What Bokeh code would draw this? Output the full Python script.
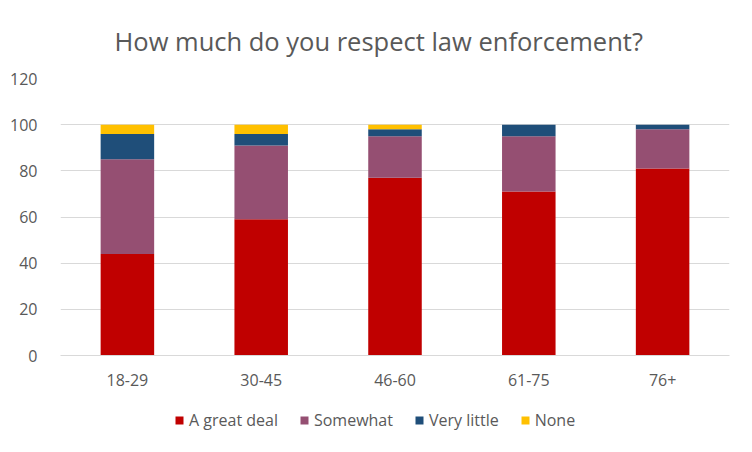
from bokeh.plotting import figure
from bokeh.layouts import column
from bokeh.models import Legend, LegendItem, ColumnDataSource, FixedTicker
from bokeh.embed import file_html
from bokeh.resources import INLINE

age_groups = ["18-29", "30-45", "46-60", "61-75", "76+"]
great_deal = [44, 59, 77, 71, 81]
somewhat = [41, 32, 18, 24, 17]
very_little = [11, 5, 3, 5, 2]
none_ = [4, 4, 2, 0, 0]
series = ["A great deal", "Somewhat", "Very little", "None"]
colors = ["#C00000", "#954F72", "#1F4E79", "#FFC000"]
y_ticks = [0, 20, 40, 60, 80, 100, 120]
title_text = "How much do you respect law enforcement?"

FONT = "Open Sans"
GREY = "#595959"

source = ColumnDataSource(dict(
    age=age_groups,
    **{"A great deal": great_deal, "Somewhat": somewhat,
       "Very little": very_little, "None": none_}
))

# ---- main chart ----
p = figure(x_range=age_groups, y_range=(0, 120), width=736, height=392,
           output_backend="svg", toolbar_location=None,
           min_border_left=60, min_border_right=7,
           min_border_top=78, min_border_bottom=37)

p.vbar_stack(series, x="age", width=0.4, source=source,
             color=colors, line_color=None)

p.title.text = title_text
p.title.align = "left"
p.title.offset = 54
p.title.text_font = FONT
p.title.text_font_size = "25.5px"
p.title.text_font_style = "normal"
p.title.text_color = GREY
p.title.standoff = 42

p.outline_line_color = None
p.background_fill_color = "white"
p.border_fill_color = "white"

p.xgrid.grid_line_color = None
p.ygrid.grid_line_color = "#d9d9d9"
p.ygrid.grid_line_width = 1

p.yaxis.ticker = FixedTicker(ticks=y_ticks)
p.yaxis.axis_line_color = None
p.yaxis.major_tick_line_color = None
p.yaxis.minor_tick_line_color = None
p.yaxis.major_label_standoff = 17
p.yaxis.major_label_text_font = FONT
p.yaxis.major_label_text_font_size = "16px"
p.yaxis.major_label_text_color = GREY

p.xaxis.axis_line_color = "#d9d9d9"
p.xaxis.major_tick_line_color = None
p.xaxis.minor_tick_line_color = None
p.xaxis.major_label_standoff = 12
p.xaxis.major_label_text_font = FONT
p.xaxis.major_label_text_font_size = "16px"
p.xaxis.major_label_text_color = GREY

# ---- legend strip ----
lg = figure(x_range=age_groups, y_range=(0, 1), width=736, height=44,
            output_backend="svg", toolbar_location=None,
            x_axis_location=None, y_axis_location=None, min_border=0)
lg.outline_line_color = None
lg.grid.grid_line_color = None
lg_renderers = lg.vbar_stack(series, x="age", width=0.4, source=source,
                             color=colors, line_color=None, visible=False)

items = [LegendItem(label=s, renderers=[r]) for s, r in zip(series, lg_renderers)]
legend = Legend(items=items, orientation="horizontal", location=(114, 5),
                label_text_font=FONT, label_text_font_size="16px",
                label_text_color=GREY, glyph_width=10, glyph_height=10,
                label_standoff=5, spacing=21, border_line_color=None,
                background_fill_alpha=0, padding=0, margin=0,
                label_height=20)
lg.add_layout(legend, "center")

layout = column(p, lg, spacing=0)
open("out.html", "w").write(file_html(layout, INLINE))
